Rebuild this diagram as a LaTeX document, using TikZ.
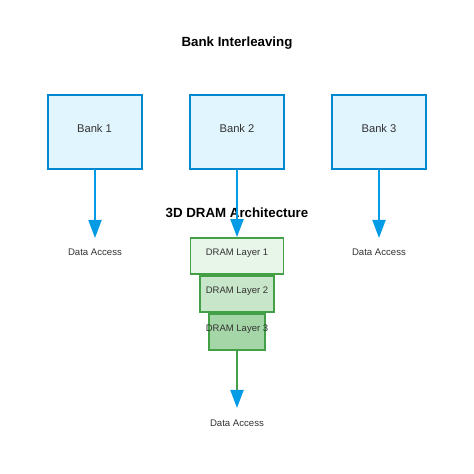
\documentclass[tikz,border=0pt]{standalone}
\usepackage{fontspec}
\setmainfont{Liberation Sans}
\usetikzlibrary{arrows.meta}
\definecolor{bankfill}{HTML}{E1F5FE}
\definecolor{bankdraw}{HTML}{0288D1}
\definecolor{arrowblue}{HTML}{039BE5}
\definecolor{greendraw}{HTML}{43A047}
\definecolor{gfill1}{HTML}{E8F5E9}
\definecolor{gfill2}{HTML}{C8E6C9}
\definecolor{gfill3}{HTML}{A5D6A7}
\definecolor{txt}{HTML}{333333}
\tikzset{
  x=1pt, y=1pt,
  bankbox/.style={draw=bankdraw, fill=bankfill, line width=2pt, minimum width=94pt, minimum height=74pt, inner sep=0pt},
  banktext/.style={text=txt, font=\fontsize{11.2}{13}\selectfont, inner sep=0pt},
  layerbox/.style={draw=greendraw, line width=1.8pt, minimum height=36pt, inner sep=0pt},
  layertext/.style={text=txt, font=\fontsize{9.5}{11}\selectfont, inner sep=0pt},
  titletext/.style={font=\bfseries\fontsize{13.3}{16}\selectfont, text=black},
  labeltext/.style={font=\fontsize{9.6}{11}\selectfont, text=txt},
  bluearrow/.style={draw=arrowblue, line width=2pt, -{Triangle[length=18pt,width=13pt]}},
  greenarrow/.style={draw=greendraw, line width=2pt, -{Triangle[length=18pt,width=13pt,color=arrowblue]}}
}
\begin{document}
\begin{tikzpicture}
\useasboundingbox (0,0) rectangle (474,474);
\fill[white] (0,0) rectangle (474,474);
% Bank interleaving
\node[titletext] (t1) at (237,474-43) {Bank Interleaving};
\node[bankbox] (b1) at (94.5,474-132.5) {};
\node[bankbox] (b2) at (237,474-132.5) {};
\node[bankbox] (b3) at (379,474-132.5) {};
\node[banktext] (b1t) at (94.5,474-128.5) {Bank 1};
\node[banktext] (b2t) at (237,474-128.5) {Bank 2};
\node[banktext] (b3t) at (379,474-128.5) {Bank 3};
\coordinate (e1) at (95,474-238);
\coordinate (e3) at (379,474-238);
\node[labeltext] (d1) at (95,474-252.5) {Data Access};
\node[labeltext] (d3) at (379,474-252.5) {Data Access};
% 3D DRAM
\node[layerbox, fill=gfill3, minimum width=56pt] (l3) at (237,474-332) {};
\node[layerbox, fill=gfill2, minimum width=74pt] (l2) at (237,474-294) {};
\node[layerbox, fill=gfill1, minimum width=93pt] (l1) at (237,474-256) {};
\node[layertext] (l1t) at (237,474-253) {DRAM Layer 1};
\node[layertext] (l2t) at (237,474-291) {DRAM Layer 2};
\node[layertext] (l3t) at (237,474-329) {DRAM Layer 3};
\node[titletext] (t2) at (237,474-213) {3D DRAM Architecture};
\draw[bluearrow] (b1.south -| e1) -- (e1);
\draw[bluearrow] (b2.south) -- (l1.north);
\draw[bluearrow] (b3.south) -- (e3);
\coordinate (e2) at (237,474-408);
\draw[greenarrow] (l3.south) -- (e2);
\node[labeltext] (d2) at (237,474-423) {Data Access};
\end{tikzpicture}
\end{document}
